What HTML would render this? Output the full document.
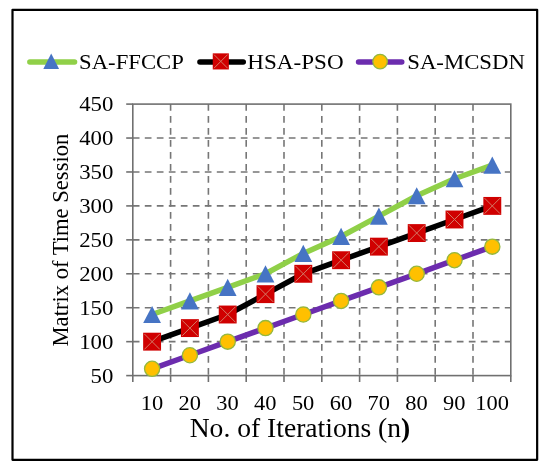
<!DOCTYPE html>
<html><head><meta charset="utf-8"><title>Chart</title>
<style>html,body{margin:0;padding:0;background:#fff}svg{display:block}text{font-family:"Liberation Serif","Times New Roman",serif;fill:#000}</style></head><body>
<svg width="550" height="471" viewBox="0 0 550 471">
<rect x="0" y="0" width="550" height="471" fill="#fff"/>
<rect x="12.5" y="9.8" width="524.65" height="450.0" fill="none" stroke="#000" stroke-width="2.2" stroke-linejoin="round"/>
<g stroke="#767676" stroke-width="1.6" stroke-dasharray="6.7 5.3" fill="none">
<line x1="132.8" y1="138.04" x2="510.8" y2="138.04"/>
<line x1="132.8" y1="171.97" x2="510.8" y2="171.97"/>
<line x1="132.8" y1="205.91" x2="510.8" y2="205.91"/>
<line x1="132.8" y1="239.85" x2="510.8" y2="239.85"/>
<line x1="132.8" y1="273.79" x2="510.8" y2="273.79"/>
<line x1="132.8" y1="307.73" x2="510.8" y2="307.73"/>
<line x1="132.8" y1="341.66" x2="510.8" y2="341.66"/>
<line x1="170.60" y1="104.1" x2="170.60" y2="375.6"/>
<line x1="208.40" y1="104.1" x2="208.40" y2="375.6"/>
<line x1="246.20" y1="104.1" x2="246.20" y2="375.6"/>
<line x1="284.00" y1="104.1" x2="284.00" y2="375.6"/>
<line x1="321.80" y1="104.1" x2="321.80" y2="375.6"/>
<line x1="359.60" y1="104.1" x2="359.60" y2="375.6"/>
<line x1="397.40" y1="104.1" x2="397.40" y2="375.6"/>
<line x1="435.20" y1="104.1" x2="435.20" y2="375.6"/>
<line x1="473.00" y1="104.1" x2="473.00" y2="375.6"/>
</g>
<g stroke="#707070" stroke-width="1.6" fill="none">
<rect x="132.8" y="104.1" width="378.0" height="271.5"/>
<line x1="126.2" y1="104.10" x2="132.8" y2="104.10"/>
<line x1="126.2" y1="138.04" x2="132.8" y2="138.04"/>
<line x1="126.2" y1="171.97" x2="132.8" y2="171.97"/>
<line x1="126.2" y1="205.91" x2="132.8" y2="205.91"/>
<line x1="126.2" y1="239.85" x2="132.8" y2="239.85"/>
<line x1="126.2" y1="273.79" x2="132.8" y2="273.79"/>
<line x1="126.2" y1="307.73" x2="132.8" y2="307.73"/>
<line x1="126.2" y1="341.66" x2="132.8" y2="341.66"/>
<line x1="126.2" y1="375.60" x2="132.8" y2="375.60"/>
<line x1="132.80" y1="375.6" x2="132.80" y2="382.0"/>
<line x1="170.60" y1="375.6" x2="170.60" y2="382.0"/>
<line x1="208.40" y1="375.6" x2="208.40" y2="382.0"/>
<line x1="246.20" y1="375.6" x2="246.20" y2="382.0"/>
<line x1="284.00" y1="375.6" x2="284.00" y2="382.0"/>
<line x1="321.80" y1="375.6" x2="321.80" y2="382.0"/>
<line x1="359.60" y1="375.6" x2="359.60" y2="382.0"/>
<line x1="397.40" y1="375.6" x2="397.40" y2="382.0"/>
<line x1="435.20" y1="375.6" x2="435.20" y2="382.0"/>
<line x1="473.00" y1="375.6" x2="473.00" y2="382.0"/>
<line x1="510.80" y1="375.6" x2="510.80" y2="382.0"/>
</g>
<polyline points="152.10,368.81 189.90,355.24 227.70,341.66 265.50,328.09 303.30,314.51 341.10,300.94 378.90,287.36 416.70,273.79 454.50,260.21 492.30,246.64" fill="none" stroke="#6c2cae" stroke-width="5.5" stroke-linecap="round" stroke-linejoin="round"/>
<circle cx="152.10" cy="368.81" r="7.60" fill="#ffc000" stroke="#94b83e" stroke-width="1.3"/>
<circle cx="189.90" cy="355.24" r="7.60" fill="#ffc000" stroke="#94b83e" stroke-width="1.3"/>
<circle cx="227.70" cy="341.66" r="7.60" fill="#ffc000" stroke="#94b83e" stroke-width="1.3"/>
<circle cx="265.50" cy="328.09" r="7.60" fill="#ffc000" stroke="#94b83e" stroke-width="1.3"/>
<circle cx="303.30" cy="314.51" r="7.60" fill="#ffc000" stroke="#94b83e" stroke-width="1.3"/>
<circle cx="341.10" cy="300.94" r="7.60" fill="#ffc000" stroke="#94b83e" stroke-width="1.3"/>
<circle cx="378.90" cy="287.36" r="7.60" fill="#ffc000" stroke="#94b83e" stroke-width="1.3"/>
<circle cx="416.70" cy="273.79" r="7.60" fill="#ffc000" stroke="#94b83e" stroke-width="1.3"/>
<circle cx="454.50" cy="260.21" r="7.60" fill="#ffc000" stroke="#94b83e" stroke-width="1.3"/>
<circle cx="492.30" cy="246.64" r="7.60" fill="#ffc000" stroke="#94b83e" stroke-width="1.3"/>
<polyline points="152.10,341.66 189.90,328.09 227.70,314.51 265.50,294.15 303.30,273.79 341.10,260.21 378.90,246.64 416.70,233.06 454.50,219.49 492.30,205.91" fill="none" stroke="#000000" stroke-width="5.5" stroke-linecap="round" stroke-linejoin="round"/>
<rect x="143.15" y="332.71" width="17.9" height="17.9" fill="#d00000"/>
<path d="M144.35 333.91L159.85 349.41M159.85 333.91L144.35 349.41" stroke="#d47a66" stroke-width="1" fill="none"/>
<rect x="180.95" y="319.14" width="17.9" height="17.9" fill="#d00000"/>
<path d="M182.15 320.34L197.65 335.84M197.65 320.34L182.15 335.84" stroke="#d47a66" stroke-width="1" fill="none"/>
<rect x="218.75" y="305.56" width="17.9" height="17.9" fill="#d00000"/>
<path d="M219.95 306.76L235.45 322.26M235.45 306.76L219.95 322.26" stroke="#d47a66" stroke-width="1" fill="none"/>
<rect x="256.55" y="285.20" width="17.9" height="17.9" fill="#d00000"/>
<path d="M257.75 286.40L273.25 301.90M273.25 286.40L257.75 301.90" stroke="#d47a66" stroke-width="1" fill="none"/>
<rect x="294.35" y="264.84" width="17.9" height="17.9" fill="#d00000"/>
<path d="M295.55 266.04L311.05 281.54M311.05 266.04L295.55 281.54" stroke="#d47a66" stroke-width="1" fill="none"/>
<rect x="332.15" y="251.26" width="17.9" height="17.9" fill="#d00000"/>
<path d="M333.35 252.46L348.85 267.96M348.85 252.46L333.35 267.96" stroke="#d47a66" stroke-width="1" fill="none"/>
<rect x="369.95" y="237.69" width="17.9" height="17.9" fill="#d00000"/>
<path d="M371.15 238.89L386.65 254.39M386.65 238.89L371.15 254.39" stroke="#d47a66" stroke-width="1" fill="none"/>
<rect x="407.75" y="224.11" width="17.9" height="17.9" fill="#d00000"/>
<path d="M408.95 225.31L424.45 240.81M424.45 225.31L408.95 240.81" stroke="#d47a66" stroke-width="1" fill="none"/>
<rect x="445.55" y="210.54" width="17.9" height="17.9" fill="#d00000"/>
<path d="M446.75 211.74L462.25 227.24M462.25 211.74L446.75 227.24" stroke="#d47a66" stroke-width="1" fill="none"/>
<rect x="483.35" y="196.96" width="17.9" height="17.9" fill="#d00000"/>
<path d="M484.55 198.16L500.05 213.66M500.05 198.16L484.55 213.66" stroke="#d47a66" stroke-width="1" fill="none"/>
<polyline points="152.10,314.51 189.90,300.94 227.70,287.36 265.50,273.79 303.30,253.43 341.10,236.46 378.90,216.09 416.70,195.73 454.50,178.76 492.30,165.19" fill="none" stroke="#90d048" stroke-width="5.5" stroke-linecap="round" stroke-linejoin="round"/>
<polygon points="152.10,305.91 161.00,323.11 143.20,323.11" fill="#4674c4"/>
<polygon points="189.90,292.34 198.80,309.54 181.00,309.54" fill="#4674c4"/>
<polygon points="227.70,278.76 236.60,295.96 218.80,295.96" fill="#4674c4"/>
<polygon points="265.50,265.19 274.40,282.39 256.60,282.39" fill="#4674c4"/>
<polygon points="303.30,244.83 312.20,262.03 294.40,262.03" fill="#4674c4"/>
<polygon points="341.10,227.86 350.00,245.06 332.20,245.06" fill="#4674c4"/>
<polygon points="378.90,207.49 387.80,224.69 370.00,224.69" fill="#4674c4"/>
<polygon points="416.70,187.13 425.60,204.33 407.80,204.33" fill="#4674c4"/>
<polygon points="454.50,170.16 463.40,187.36 445.60,187.36" fill="#4674c4"/>
<polygon points="492.30,156.59 501.20,173.79 483.40,173.79" fill="#4674c4"/>
<text transform="translate(113.3 111.40) scale(1.05 1)" font-size="21.7" text-anchor="end">450</text>
<text transform="translate(113.3 145.34) scale(1.05 1)" font-size="21.7" text-anchor="end">400</text>
<text transform="translate(113.3 179.28) scale(1.05 1)" font-size="21.7" text-anchor="end">350</text>
<text transform="translate(113.3 213.21) scale(1.05 1)" font-size="21.7" text-anchor="end">300</text>
<text transform="translate(113.3 247.15) scale(1.05 1)" font-size="21.7" text-anchor="end">250</text>
<text transform="translate(113.3 281.09) scale(1.05 1)" font-size="21.7" text-anchor="end">200</text>
<text transform="translate(113.3 315.03) scale(1.05 1)" font-size="21.7" text-anchor="end">150</text>
<text transform="translate(113.3 348.96) scale(1.05 1)" font-size="21.7" text-anchor="end">100</text>
<text transform="translate(113.3 382.90) scale(1.05 1)" font-size="21.7" text-anchor="end">50</text>
<text transform="translate(151.90 410.3) scale(1.035 1)" font-size="21.7" text-anchor="middle">10</text>
<text transform="translate(189.70 410.3) scale(1.035 1)" font-size="21.7" text-anchor="middle">20</text>
<text transform="translate(227.50 410.3) scale(1.035 1)" font-size="21.7" text-anchor="middle">30</text>
<text transform="translate(265.30 410.3) scale(1.035 1)" font-size="21.7" text-anchor="middle">40</text>
<text transform="translate(303.10 410.3) scale(1.035 1)" font-size="21.7" text-anchor="middle">50</text>
<text transform="translate(340.90 410.3) scale(1.035 1)" font-size="21.7" text-anchor="middle">60</text>
<text transform="translate(378.70 410.3) scale(1.035 1)" font-size="21.7" text-anchor="middle">70</text>
<text transform="translate(416.50 410.3) scale(1.035 1)" font-size="21.7" text-anchor="middle">80</text>
<text transform="translate(454.30 410.3) scale(1.035 1)" font-size="21.7" text-anchor="middle">90</text>
<text transform="translate(492.10 410.3) scale(1.035 1)" font-size="21.7" text-anchor="middle">100</text>
<text transform="translate(189.67 436.9) scale(1.0297 1)" font-size="26.8">No. of Iterations (n<tspan font-weight="bold">)</tspan></text>
<text transform="translate(67.8 240.1) rotate(-90)" font-size="22.6" text-anchor="middle">Matrix of Time Session</text>
<line x1="29.9" y1="62.0" x2="74.5" y2="62.0" stroke="#90d048" stroke-width="5.6" stroke-linecap="round"/>
<polygon points="51.20,53.50 59.10,69.10 43.30,69.10" fill="#4674c4"/>
<line x1="200.0" y1="62.0" x2="243.2" y2="62.0" stroke="#000000" stroke-width="5.6" stroke-linecap="round"/>
<rect x="212.75" y="53.35" width="16.1" height="16.1" fill="#d00000"/>
<path d="M213.95 54.55L227.65 68.25M227.65 54.55L213.95 68.25" stroke="#d47a66" stroke-width="1" fill="none"/>
<line x1="358.6" y1="62.0" x2="401.7" y2="62.0" stroke="#6c2cae" stroke-width="5.6" stroke-linecap="round"/>
<circle cx="380.10" cy="61.60" r="7.25" fill="#ffc000" stroke="#94b83e" stroke-width="1.3"/>
<text transform="translate(79.12 68.8) scale(1.0512 1)" font-size="21.6">SA-FFCCP</text>
<text transform="translate(247.31 68.8) scale(1.0695 1)" font-size="21.6">HSA-PSO</text>
<text transform="translate(407.22 68.8) scale(1.0544 1)" font-size="21.6">SA-MCSDN</text>
</svg></body></html>
